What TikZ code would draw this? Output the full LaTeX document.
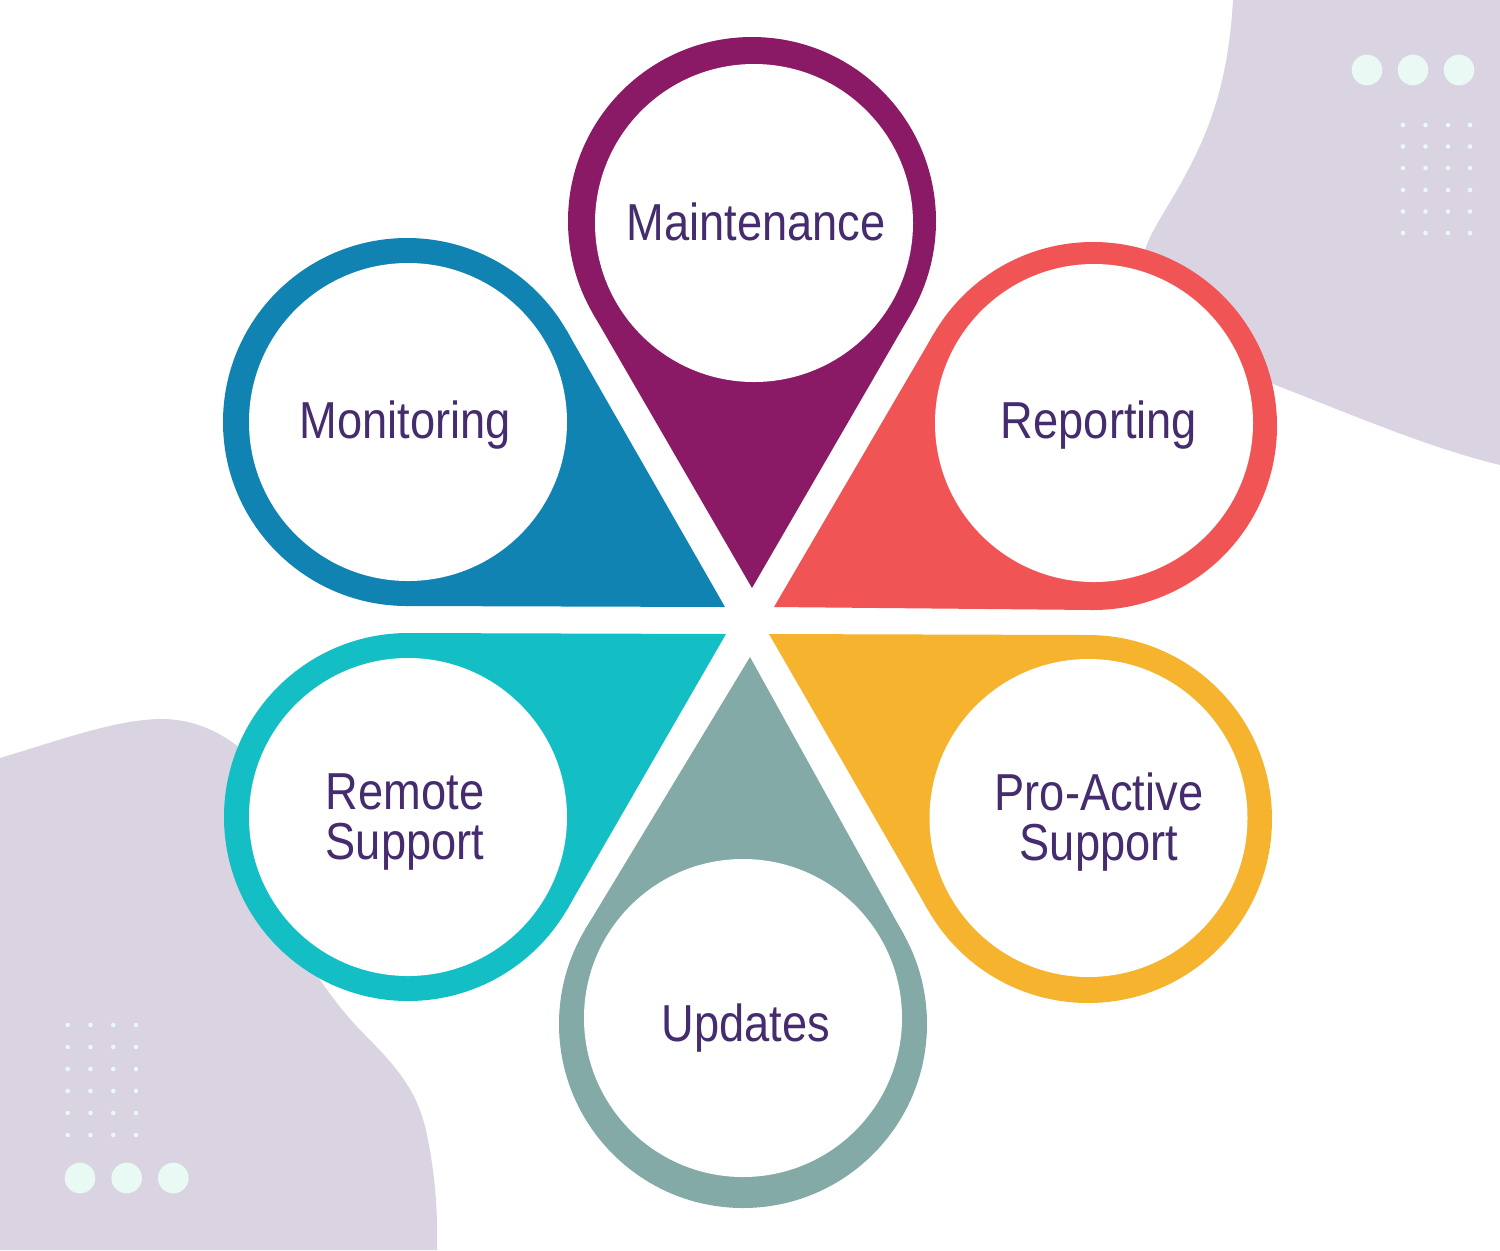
\documentclass[tikz,border=0pt]{standalone}
\usepackage{fontspec}
\setmainfont{Liberation Sans}[FakeStretch=0.87]
\usetikzlibrary{calc}
\definecolor{cmaint}{HTML}{8B1A66}
\definecolor{cmonit}{HTML}{1083B3}
\definecolor{creport}{HTML}{F05454}
\definecolor{cremote}{HTML}{13BEC4}
\definecolor{cproact}{HTML}{F6B32E}
\definecolor{cupdate}{HTML}{83AAA6}
\definecolor{ctext}{HTML}{452C6F}
\definecolor{cblob}{HTML}{DAD4E2}
\definecolor{cdot}{HTML}{E9F9F3}
\newcommand\pinshape[4]{%
  \fill[#4] (#1) circle[radius=184];
  \fill[#4] (#2) -- ($(#1)+(#3+60:184)$) -- (#1) -- ($(#1)+(#3-60:184)$) -- cycle;
}
\begin{document}
\begin{tikzpicture}[x=0.5pt,y=-0.5pt,
  innerdisc/.style={circle,fill=white,minimum size=159pt,inner sep=0pt},
  lbl/.style={text=ctext,font=\fontsize{26}{25}\selectfont,align=center,inner sep=0pt,text depth=0pt}]
\useasboundingbox (0,0) rectangle (1500,1250);
\fill[white] (0,0) rectangle (1500,1250);
% background blobs
\fill[cblob] (1233,0) .. controls (1228,90) and (1205,140) .. (1180,185)
  .. controls (1160,220) and (1145,240) .. (1143,260) -- (1200,360) -- (1273,384)
  .. controls (1360,418) and (1430,448) .. (1500,465) -- (1500,0) -- cycle;
\fill[cblob] (0,758) .. controls (60,740) and (120,718) .. (165,719)
  .. controls (195,720) and (220,732) .. (240,748) -- (310,965)
  .. controls (330,995) and (345,1015) .. (365,1035)
  .. controls (400,1070) and (420,1095) .. (428,1140)
  .. controls (436,1180) and (438,1220) .. (437,1250) -- (0,1250) -- cycle;
% dots
\foreach \x in {1367,1413,1459} \fill[cdot] (\x,70) circle[radius=15.3];
\foreach \x in {1403,1425.5,1448,1470} \foreach \y in {125,146.5,168,190,211.5,233}
  \fill[cdot] (\x,\y) circle[radius=2.3];
\foreach \x in {80,126.7,173.3} \fill[cdot] (\x,1178) circle[radius=15.3];
\foreach \x in {67.7,90.5,113.3,136} \foreach \y in {1025,1047,1069,1091,1113,1135}
  \fill[cdot] (\x,\y) circle[radius=2.3];
% pin geometry
\coordinate (cM) at (752,221);  \coordinate (tM) at (752,588);
\coordinate (cMo) at (407,422); \coordinate (tMo) at (725,607);
\coordinate (cR) at (1093,426); \coordinate (tR) at (774,607);
\coordinate (cRe) at (408,817); \coordinate (tRe) at (726,634);
\coordinate (cP) at (1088,819); \coordinate (tP) at (769,634);
\coordinate (cU) at (743,1024); \coordinate (tU) at (750,657);
\pinshape{cM}{tM}{90}{cmaint}
\pinshape{cMo}{tMo}{30.2}{cmonit}
\pinshape{cR}{tR}{150.4}{creport}
\pinshape{cRe}{tRe}{-29.9}{cremote}
\pinshape{cP}{tP}{210.1}{cproact}
\pinshape{cU}{tU}{271.1}{cupdate}
% inner discs
\node[innerdisc] (dM) at (754,223) {};
\node[innerdisc] (dMo) at (408,422) {};
\node[innerdisc] (dR) at (1094,423) {};
\node[innerdisc] (dRe) at (408,817) {};
\node[innerdisc] (dP) at (1088.5,818) {};
\node[innerdisc] (dU) at (743,1018) {};
% labels
\node[lbl] (lM) at (756,222) {Maintenance};
\node[lbl] (lMo) at (405,420) {Monitoring};
\node[lbl] (lR) at (1099,420) {Reporting};
\node[lbl] (lRe) at (405,817) {Remote\\Support};
\node[lbl] (lP) at (1099,817) {Pro-Active\\Support};
\node[lbl] (lU) at (746,1023) {Updates};
\end{tikzpicture}
\end{document}
